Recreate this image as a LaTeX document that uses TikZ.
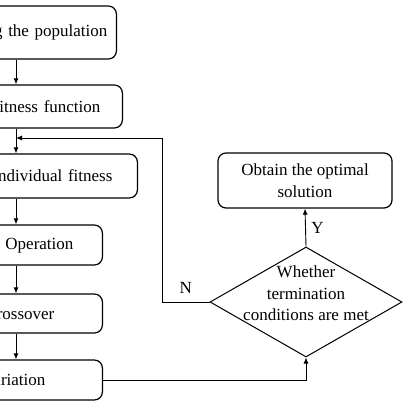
\documentclass[tikz,border=0pt]{standalone}
\usepackage{fontspec}
\setmainfont{Liberation Serif}
\usetikzlibrary{arrows.meta, positioning, shapes.geometric}

\begin{document}
\begin{tikzpicture}[x=1pt, y=-1pt,
        font=\fontsize{17}{21.5}\selectfont,
        proc/.style={draw, rounded corners=8pt, line width=1.2pt, anchor=east,
                    text width=260pt, align=right, inner ysep=0pt, inner xsep=#1},
        result/.style={draw, rounded corners=8pt, line width=1.2pt, align=center,
                    minimum width=174pt, minimum height=55pt},
        judge/.style={draw, diamond, line width=1pt, inner sep=0pt,
                    minimum width=192pt, minimum height=110pt},
        arrow/.style={-{Latex[length=6pt, width=5pt]}, line width=0.9pt},
    ]
        \path[use as bounding box, clip] (0,0) rectangle (417,417);

        \node[proc=9pt,  minimum height=53pt] (init)   at (117,32.5)  {Initializing the population};
        \node[proc=22pt, minimum height=43pt] (fitfun) at (123,106.5) {Determine the fitness function};
        \node[proc=25pt, minimum height=44pt] (indfit) at (138,176)   {Calculate individual fitness};
        \node[proc=29pt, minimum height=40pt] (selop)  at (103,245)   {Selection Operation};
        \node[proc=48pt, minimum height=39pt] (cross)  at (103,313.5) {Crossover};
        \node[proc=57pt, minimum height=40pt] (vari)   at (103,380)   {Variation};

        \node[result] (best) at (305,180.5) {Obtain the optimal\\solution};
        \node[judge] (check) at (306,302) {};
        \node[align=center] (checktext) at (306,293.5) {Whether\\termination\\conditions are met};

        \coordinate (col) at (16,0);
        \coordinate (back) at (16,138);
        \coordinate (turn) at (162,302);

        \draw[arrow] (init.south -| col) -- (fitfun.north -| col);
        \draw[arrow] (fitfun.south -| col) -- (indfit.north -| col);
        \draw[arrow] (indfit.south -| col) -- (selop.north -| col);
        \draw[arrow] (selop.south -| col) -- (cross.north -| col);
        \draw[arrow] (cross.south -| col) -- (vari.north -| col);
        \draw[arrow] (vari.east) -| (check.south);
        \draw[arrow] (check.north) -- node[right=2pt] {Y} (best.south);
        \draw[arrow] (check.west) -- node[above=5pt] {N} (turn) |- (back);
    \end{tikzpicture}
\end{document}
